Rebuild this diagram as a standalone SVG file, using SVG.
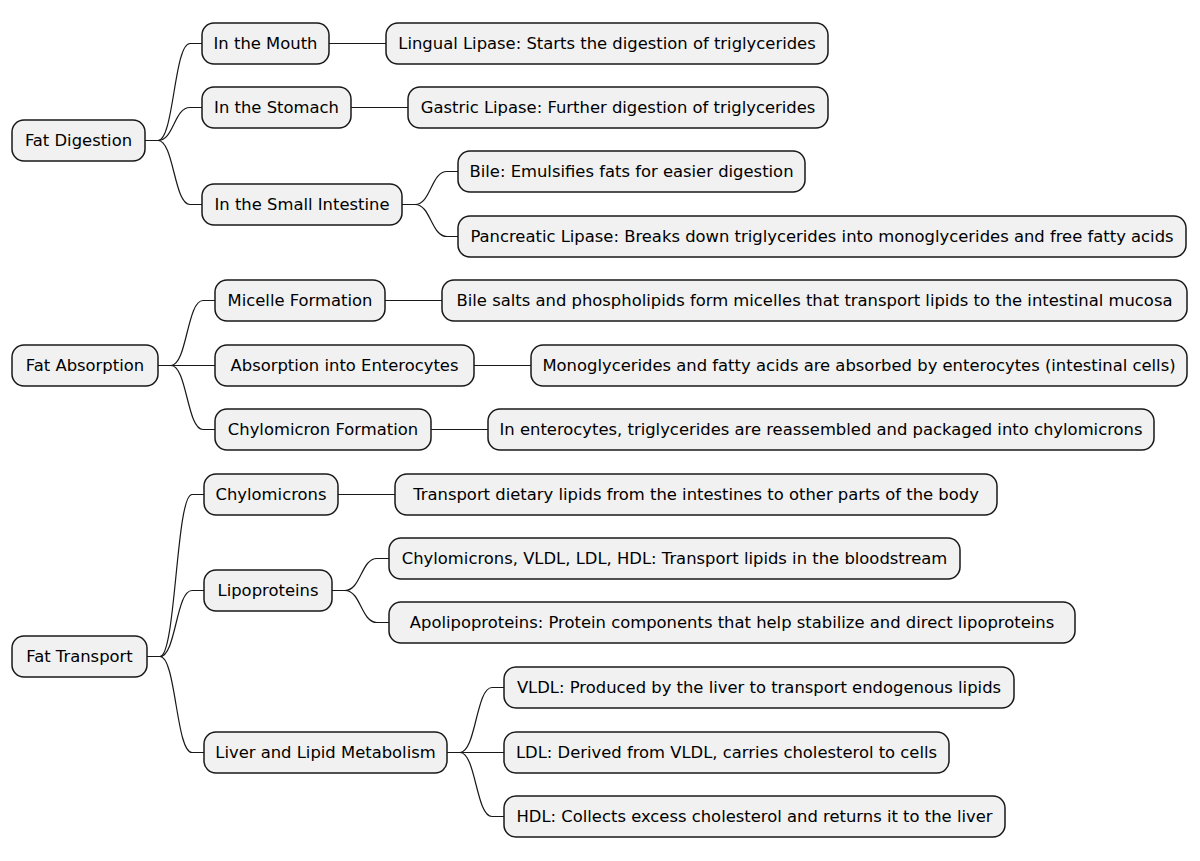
<svg xmlns="http://www.w3.org/2000/svg" width="1200" height="861" viewBox="0 0 1200 861">
<style>
.n rect{fill:#F1F1F1;stroke:#181818;stroke-width:1.5}
.n text{font-family:"DejaVu Sans",sans-serif;font-size:16.4px;fill:#000;text-anchor:middle}
.c path{fill:none;stroke:#181818;stroke-width:1.2}
</style>
<rect width="1200" height="861" fill="#FFFFFF"/>
<g class="c" id="connectors">
<path d="M145,140.5 L158,140.5 C174,140.5 174,43.5 190,43.5 L202,43.5"/>
<path d="M145,140.5 L158,140.5 C174,140.5 174,107.5 190,107.5 L202,107.5"/>
<path d="M145,140.5 L158,140.5 C174,140.5 174,204.5 190,204.5 L202,204.5"/>
<path d="M329,43.5 L386,43.5"/>
<path d="M351,107.5 L408,107.5"/>
<path d="M402,204.5 L415,204.5 C431,204.5 431,171.5 447,171.5 L458,171.5"/>
<path d="M402,204.5 L415,204.5 C431,204.5 431,236.5 447,236.5 L458,236.5"/>
<path d="M158,365.5 L171,365.5 C187,365.5 187,300.5 203,300.5 L215,300.5"/>
<path d="M158,365.5 L215,365.5"/>
<path d="M158,365.5 L171,365.5 C187,365.5 187,429.5 203,429.5 L215,429.5"/>
<path d="M385,300.5 L442,300.5"/>
<path d="M474,365.5 L531,365.5"/>
<path d="M431,429.5 L488,429.5"/>
<path d="M147,656.5 L160,656.5 C176,656.5 176,494.5 192,494.5 L204,494.5"/>
<path d="M147,656.5 L160,656.5 C176,656.5 176,590.5 192,590.5 L204,590.5"/>
<path d="M147,656.5 L160,656.5 C176,656.5 176,752.5 192,752.5 L204,752.5"/>
<path d="M338,494.5 L395,494.5"/>
<path d="M332,590.5 L345,590.5 C361,590.5 361,558.5 377,558.5 L389,558.5"/>
<path d="M332,590.5 L345,590.5 C361,590.5 361,622.5 377,622.5 L389,622.5"/>
<path d="M447,752.5 L460,752.5 C476,752.5 476,687.5 492,687.5 L504,687.5"/>
<path d="M447,752.5 L504,752.5"/>
<path d="M447,752.5 L460,752.5 C476,752.5 476,816.5 492,816.5 L504,816.5"/>
</g>
<g class="n" id="fat-digestion"><rect x="12" y="120" width="133" height="41" rx="12"/><text x="78.5" y="146.3">Fat Digestion</text></g>
<g class="n" id="mouth"><rect x="202" y="23" width="127" height="41" rx="12"/><text x="265.5" y="49.3">In the Mouth</text></g>
<g class="n" id="stomach"><rect x="202" y="87" width="149" height="41" rx="12"/><text x="276.5" y="113.3">In the Stomach</text></g>
<g class="n" id="small-intestine"><rect x="202" y="184" width="200" height="41" rx="12"/><text x="302" y="210.3">In the Small Intestine</text></g>
<g class="n" id="lingual"><rect x="386" y="23" width="442" height="41" rx="12"/><text x="607" y="49.3">Lingual Lipase: Starts the digestion of triglycerides</text></g>
<g class="n" id="gastric"><rect x="408" y="87" width="420" height="41" rx="12"/><text x="618" y="113.3">Gastric Lipase: Further digestion of triglycerides</text></g>
<g class="n" id="bile"><rect x="458" y="151" width="347" height="41" rx="12"/><text x="631.5" y="177.3">Bile: Emulsifies fats for easier digestion</text></g>
<g class="n" id="pancreatic"><rect x="458" y="216" width="728" height="41" rx="12"/><text x="822" y="242.3">Pancreatic Lipase: Breaks down triglycerides into monoglycerides and free fatty acids</text></g>
<g class="n" id="fat-absorption"><rect x="12" y="345" width="146" height="41" rx="12"/><text x="85" y="371.3">Fat Absorption</text></g>
<g class="n" id="micelle"><rect x="215" y="280" width="170" height="41" rx="12"/><text x="300" y="306.3">Micelle Formation</text></g>
<g class="n" id="absorption-enterocytes"><rect x="215" y="345" width="259" height="41" rx="12"/><text x="344.5" y="371.3">Absorption into Enterocytes</text></g>
<g class="n" id="chylomicron-formation"><rect x="215" y="409" width="216" height="41" rx="12"/><text x="323" y="435.3">Chylomicron Formation</text></g>
<g class="n" id="bile-salts"><rect x="442" y="280" width="745" height="41" rx="12"/><text x="814.5" y="306.3">Bile salts and phospholipids form micelles that transport lipids to the intestinal mucosa</text></g>
<g class="n" id="monoglycerides"><rect x="531" y="345" width="656" height="41" rx="12"/><text x="859" y="371.3">Monoglycerides and fatty acids are absorbed by enterocytes (intestinal cells)</text></g>
<g class="n" id="reassembled"><rect x="488" y="409" width="666" height="41" rx="12"/><text x="821" y="435.3">In enterocytes, triglycerides are reassembled and packaged into chylomicrons</text></g>
<g class="n" id="fat-transport"><rect x="12" y="636" width="135" height="41" rx="12"/><text x="79.5" y="662.3">Fat Transport</text></g>
<g class="n" id="chylomicrons"><rect x="204" y="474" width="134" height="41" rx="12"/><text x="271" y="500.3">Chylomicrons</text></g>
<g class="n" id="lipoproteins"><rect x="204" y="570" width="128" height="41" rx="12"/><text x="268" y="596.3">Lipoproteins</text></g>
<g class="n" id="liver"><rect x="204" y="732" width="243" height="41" rx="12"/><text x="325.5" y="758.3">Liver and Lipid Metabolism</text></g>
<g class="n" id="transport-dietary"><rect x="395" y="474" width="602" height="41" rx="12"/><text x="696" y="500.3">Transport dietary lipids from the intestines to other parts of the body</text></g>
<g class="n" id="lipo-types"><rect x="389" y="538" width="571" height="41" rx="12"/><text x="674.5" y="564.3">Chylomicrons, VLDL, LDL, HDL: Transport lipids in the bloodstream</text></g>
<g class="n" id="apolipoproteins"><rect x="389" y="602" width="686" height="41" rx="12"/><text x="732" y="628.3">Apolipoproteins: Protein components that help stabilize and direct lipoproteins</text></g>
<g class="n" id="vldl"><rect x="504" y="667" width="510" height="41" rx="12"/><text x="759" y="693.3">VLDL: Produced by the liver to transport endogenous lipids</text></g>
<g class="n" id="ldl"><rect x="504" y="732" width="445" height="41" rx="12"/><text x="726.5" y="758.3">LDL: Derived from VLDL, carries cholesterol to cells</text></g>
<g class="n" id="hdl"><rect x="504" y="796" width="501" height="41" rx="12"/><text x="754.5" y="822.3">HDL: Collects excess cholesterol and returns it to the liver</text></g>
</svg>
